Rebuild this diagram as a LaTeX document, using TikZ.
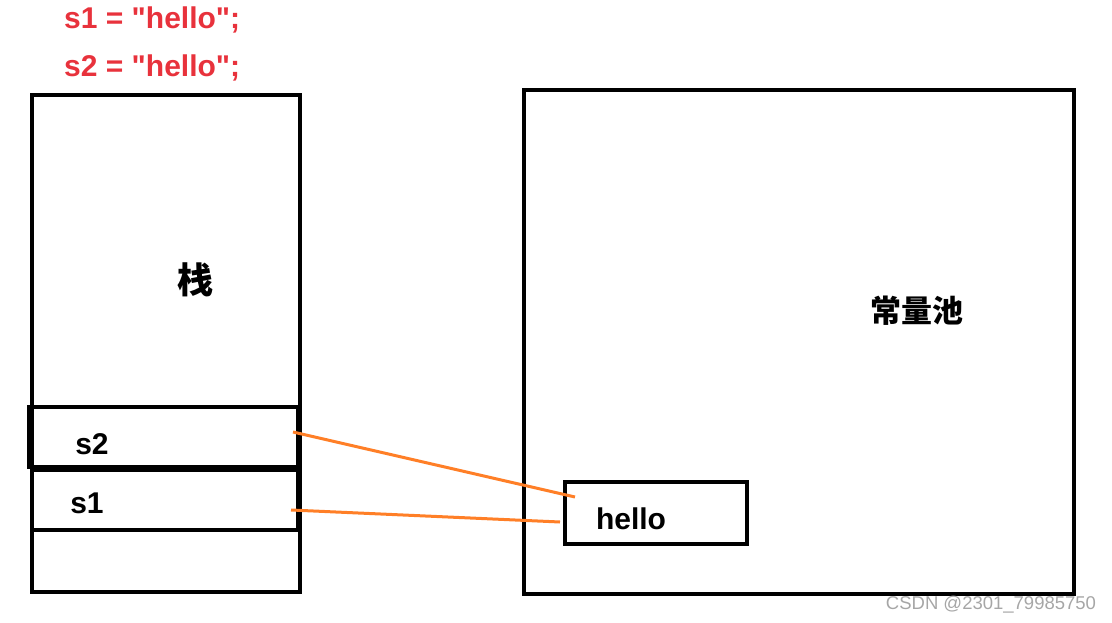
\documentclass[tikz,border=0pt]{standalone}
\usepackage{fontspec}
\setmainfont{Liberation Sans}[Ligatures=ResetAll]
\newfontfamily\cjk{Noto Sans CJK SC}
\begin{document}
\begin{tikzpicture}[x=1pt,y=-1pt,
  box/.style={draw=black,line width=3.5pt},
  lbl/.style={font=\bfseries\fontsize{30}{34}\selectfont},
  cj/.style={font=\cjk\bfseries\fontsize{#1}{34}\selectfont},
  ptr/.style={draw={rgb,255:red,255;green,127;blue,39},line width=3pt}]
\useasboundingbox (0,0) rectangle (1112,623);
\definecolor{redt}{RGB}{232,50,60}
\node[lbl,text=redt,anchor=west,inner sep=0pt] (c1) at (64,20) {s1 = \textquotedbl hello\textquotedbl;};
\node[lbl,text=redt,anchor=west,inner sep=0pt] (c2) at (64,68) {s2 = \textquotedbl hello\textquotedbl;};
\draw[box] (32,95) rectangle (300,592);
\draw[box] (30,407) rectangle (298,467);
\draw[line width=6pt] (30,405) -- (30,469);
\draw[box] (32,470) rectangle (298,530);
\node[cj=36] (zhan) at (195,280) {栈};
\node[lbl] (s2) at (92,444) {s2};
\node[lbl] (s1) at (87,503) {s1};
\draw[box] (524,90) rectangle (1074,594);
\node[cj=31] (pool) at (917,311) {常量池};
\draw[box] (565,482) rectangle (747,544);
\node[lbl] (hello) at (631,519) {hello};
\coordinate (a1) at (293,432); \coordinate (b1) at (575,497);
\coordinate (a2) at (291,510); \coordinate (b2) at (560,522);
\draw[ptr] (a1) -- (b1);
\draw[ptr] (a2) -- (b2);
\node[text=gray!70,font=\fontsize{18.5}{20}\selectfont] (wm) at (991,605) {CSDN @2301\_79985750};
\end{tikzpicture}
\end{document}
